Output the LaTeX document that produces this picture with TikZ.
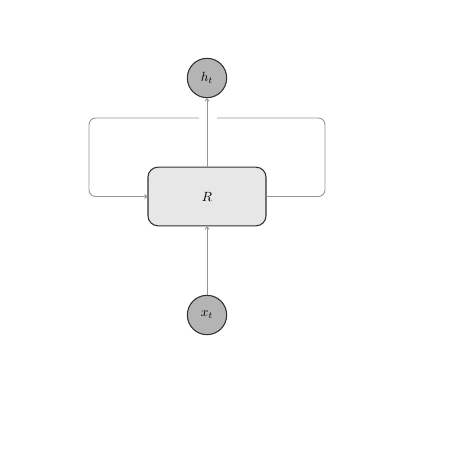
\documentclass[tikz,border=0pt]{standalone}
\usetikzlibrary{arrows.meta}
\definecolor{linegray}{RGB}{150,150,150}
\definecolor{nodegray}{RGB}{180,180,180}
\definecolor{boxgray}{RGB}{231,231,231}
\definecolor{edgedark}{RGB}{50,50,50}
\begin{document}
\begin{tikzpicture}[x=0.75pt,y=-0.75pt,
  unit/.style={circle,draw=edgedark,fill=nodegray,line width=0.8pt,minimum size=29.5pt,inner sep=0pt},
  cell/.style={rectangle,rounded corners=7.5pt,draw=edgedark,fill=boxgray,line width=0.8pt,minimum width=88.5pt,minimum height=44pt,inner sep=0pt},
  conn/.style={draw=linegray,line width=0.7pt},
  arr/.style={conn,-{To[length=2.5pt,width=3.5pt]}}]
\useasboundingbox (0,0) rectangle (474,449);
\node[unit] (h) at (207,78) {$h_t$};
\node[cell] (R) at (207,196.5) {$R$};
\node[unit] (x) at (207,315) {$x_t$};
\draw[arr] (x) -- (R);
\draw[arr] (R) -- (h);
\coordinate (gr) at (217,118);
\coordinate (gl) at (199,118);
\draw[conn,rounded corners=5pt] (R.east) -- (325,196.5) -- (325,118) -- (gr);
\draw[arr,rounded corners=5pt] (gl) -- (89,118) -- (89,196.5) -- (R.west);
\end{tikzpicture}
\end{document}
